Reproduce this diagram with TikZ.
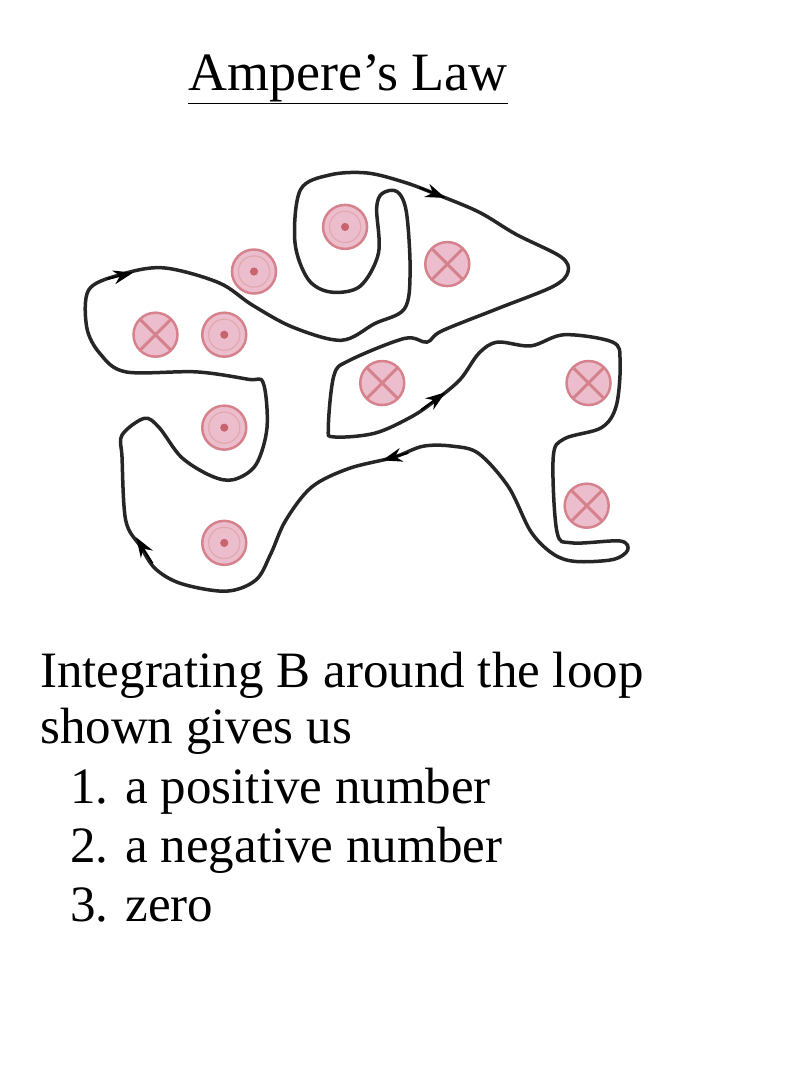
\documentclass[tikz,border=0pt]{standalone}
\usepackage{fontspec}
\setmainfont{Liberation Serif}
\usetikzlibrary{arrows.meta}
\definecolor{cfill}{RGB}{236,190,205}
\definecolor{cring}{RGB}{214,130,140}
\definecolor{cdot}{RGB}{200,100,110}
\begin{document}
\begin{tikzpicture}[x=1pt,y=-1pt,
  cur/.style={circle,minimum size=44pt,inner sep=0pt,fill=cfill,draw=cring,line width=2.5pt},
  tip/.style={-{Stealth[length=20pt,width=14pt]},line width=2pt},
  txt/.style={anchor=base west,inner sep=0pt,font=\fontsize{51}{56}\selectfont}]
\useasboundingbox (0,0) rectangle (790,1084);
\node[anchor=base,inner sep=0pt,font=\fontsize{54}{60}\selectfont] (title) at (348,90) {\underline{Ampere’s Law}};
\begin{scope}[shift={(70,160)},scale=0.3717]
\draw[line width=3.5pt,color=black!85] plot[smooth cycle,tension=0.55] coordinates {
(50,350) (130,310) (250,290) (400,330) (490,390) (600,450) (730,485) (820,440) (900,400) (915,300) (905,140) (880,85) (840,90) (825,130) (830,250) (780,340) (700,355) (640,320) (605,220) (620,80) (700,40) (800,35) (900,60) (980,90) (1100,140) (1200,200) (1320,260) (1340,300) (1300,340) (1150,400) (1000,460) (960,490) (900,480) (750,540) (710,580) (695,720) (710,745) (820,735) (920,690) (985,645) (1050,590) (1100,520) (1150,490) (1240,500) (1330,470) (1460,490) (1480,540) (1470,660) (1430,720) (1330,750) (1300,800) (1310,1000) (1350,1030) (1480,1025) (1500,1050) (1460,1075) (1360,1080) (1300,1060) (1240,1000) (1180,880) (1100,790) (1030,770) (950,770) (870,800) (750,830) (650,880) (580,970) (540,1060) (500,1130) (420,1160) (300,1140) (230,1100) (190,1040) (150,970) (140,800) (140,740) (200,695) (240,720) (300,800) (380,850) (440,860) (500,820) (530,720) (520,600) (480,590) (340,570) (150,570) (80,520) (45,450)};
\coordinate (a1) at (100,320); \coordinate (a1e) at (170,303);
\draw[tip] (a1) -- (a1e);
\coordinate (a2) at (940,74); \coordinate (a2e) at (1010,102);
\draw[tip] (a2) -- (a2e);
\coordinate (a3) at (945,672); \coordinate (a3e) at (1010,625);
\draw[tip] (a3) -- (a3e);
\coordinate (a4) at (910,788); \coordinate (a4e) at (840,808);
\draw[tip] (a4) -- (a4e);
\coordinate (a5) at (222,1085); \coordinate (a5e) at (178,1015);
\draw[tip] (a5) -- (a5e);
\foreach \n/\p in {d1/{(740,180)},d2/{(495,300)},d3/{(415,470)},d4/{(415,720)},d5/{(415,1030)}}{
  \node[cur] (\n) at \p {};
  \draw[cring!70!white,line width=1.2pt] (\n) circle (42);
  \fill[cdot] (\n) circle (11);
}
\foreach \n/\p in {x1/{(230,470)},x2/{(1015,280)},x3/{(840,600)},x4/{(1395,600)},x5/{(1390,930)}}{
  \node[cur] (\n) at \p {};
  \draw[cring,line width=3pt] ([shift={(-40,-40)}]\n.center) -- ([shift={(40,40)}]\n.center) ([shift={(-40,40)}]\n.center) -- ([shift={(40,-40)}]\n.center);
}
\end{scope}
\node[txt] (l1) at (40,687) {Integrating B around the loop};
\node[txt] (l2) at (40,743) {shown gives us};
\node[txt] (l3) at (70,803) {1. a positive number};
\node[txt] (l4) at (70,862) {2. a negative number};
\node[txt] (l5) at (70,921) {3. zero};
\end{tikzpicture}
\end{document}
